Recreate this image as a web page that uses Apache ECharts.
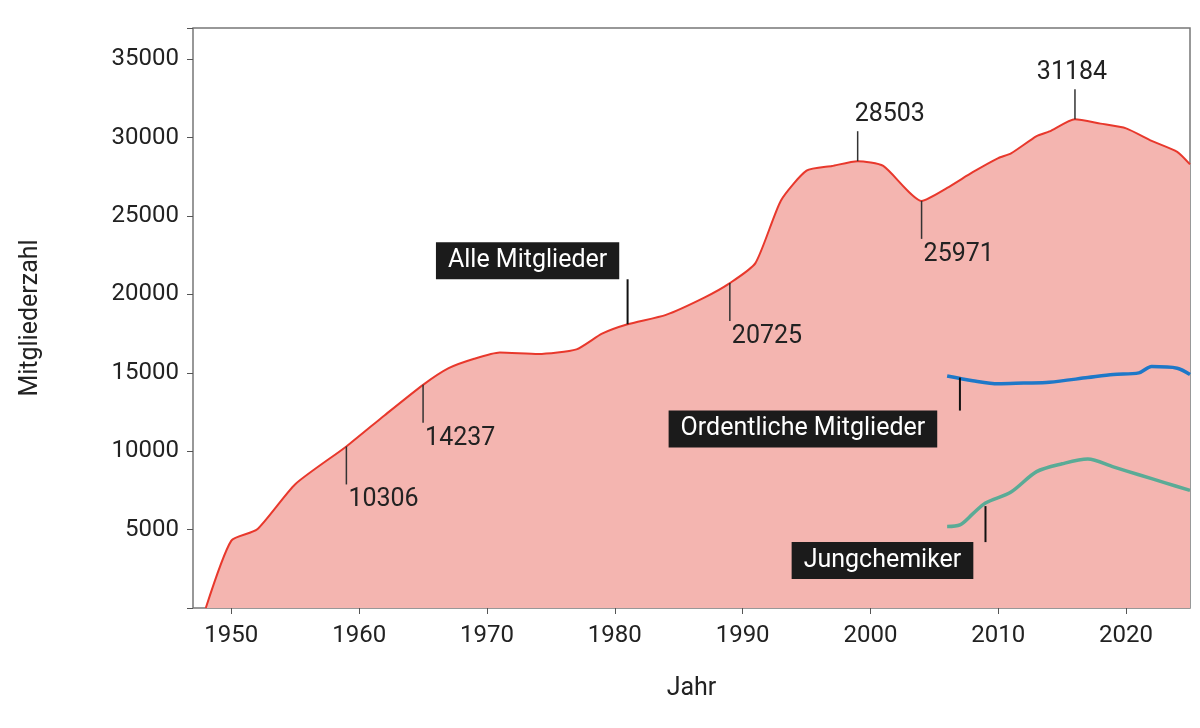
<!DOCTYPE html>
<html>
<head>
<meta charset="utf-8">
<script src="https://cdn.jsdelivr.net/npm/echarts@6/dist/echarts.min.js"></script>
<style>body{margin:0;background:#fff}#c{width:1200px;height:728px}</style>
</head>
<body>
<div id="c"></div>
<script>
var alleJahre = [1948,1950,1952,1955,1959,1962,1965,1967,1969,1971,1974,1977,1979,1981,1984,1987,1989,1991,1993,1995,1997,1999,2001,2004,2006,2008,2010,2011,2013,2014,2016,2018,2020,2022,2024,2025];
var alleWerte = [0,4300,5000,7900,10306,12300,14237,15300,15900,16300,16200,16500,17500,18100,18700,19800,20725,22000,26000,27900,28200,28503,28200,25971,26800,27800,28700,29000,30100,30400,31184,30900,30600,29800,29100,28300];
var ordJahre = [2006,2008,2010,2012,2014,2017,2019,2021,2022,2024,2025];
var ordWerte = [14800,14500,14300,14350,14400,14700,14900,15000,15400,15300,14900];
var jungJahre = [2006,2007,2008,2009,2011,2013,2015,2017,2019,2021,2023,2025];
var jungWerte = [5200,5300,6000,6700,7400,8700,9200,9500,9000,8500,8000,7500];
var xTicks = [1950,1960,1970,1980,1990,2000,2010,2020];
// [Jahr, Wert, Text, Richtung]
var zahlen = [[1959,10306,'10306','d'],[1965,14237,'14237','d'],[1989,20725,'20725','d'],[2004,25971,'25971','d'],[1999,28503,'28503','u'],[2016,31184,'31184','u']];
// [Jahr, Wert, Text, x-Versatz Box, Richtung, Linienlänge]
var boxen = [[1981,18100,'Alle Mitglieder',-100,'u',45],[2007,14700,'Ordentliche Mitglieder',-157,'d',33],[2009,6500,'Jungchemiker',-103,'d',36]];

function zip(a,b){return a.map(function(v,i){return [v,b[i]];});}

var chart = echarts.init(document.getElementById('c'));
chart.setOption({
  animation:false,
  grid:{left:193,right:10,top:28,bottom:120,show:true,borderColor:'#777',borderWidth:1.5,backgroundColor:'transparent'},
  xAxis:{type:'value',min:1947,max:2025,name:'Jahr',nameLocation:'middle',nameGap:68,
    nameTextStyle:{fontSize:25,color:'#222',fontFamily:'Roboto'},
    axisLine:{show:false},splitLine:{show:false},
    axisTick:{show:true,customValues:xTicks,length:6,lineStyle:{color:'#555'}},
    axisLabel:{customValues:xTicks,fontSize:24,color:'#222',fontFamily:'Roboto',margin:16,
      formatter:function(v){return String(v);}}},
  yAxis:{type:'value',min:0,max:37000,interval:5000,name:'Mitgliederzahl',nameLocation:'middle',nameGap:150,
    nameTextStyle:{fontSize:25,color:'#222',fontFamily:'Roboto'},
    axisLine:{show:false},splitLine:{show:false},
    axisTick:{show:true,length:6,lineStyle:{color:'#555'}},
    axisLabel:{fontSize:24,color:'#222',fontFamily:'Roboto',margin:14,
      formatter:function(v){return (v>0&&v%5000===0)?String(v):'';}}},
  series:[
    {type:'line',data:zip(alleJahre,alleWerte),symbol:'none',smooth:0.2,
      lineStyle:{color:'#e8382c',width:2},areaStyle:{color:'#f4b5b0',opacity:1}},
    {type:'line',data:zip(ordJahre,ordWerte),symbol:'none',smooth:0.3,lineStyle:{color:'#1e78c8',width:3.5}},
    {type:'line',data:zip(jungJahre,jungWerte),symbol:'none',smooth:0.3,lineStyle:{color:'#5aab96',width:3.5}},
    {type:'custom',data:zahlen,z:10,renderItem:function(p,api){
      var pt=api.coord([api.value(0),api.value(1)]);var d=zahlen[p.dataIndex][3];
      var y2=d==='d'?pt[1]+38:pt[1]-30;
      return {type:'group',children:[
        {type:'line',shape:{x1:pt[0],y1:pt[1],x2:pt[0],y2:y2},style:{stroke:'#333',lineWidth:1.5}},
        {type:'text',style:{text:zahlen[p.dataIndex][2],x:d==='d'?pt[0]+2:pt[0]-3,y:d==='d'?y2+3:y2-4,
          fontSize:25,fill:'#222',fontFamily:'Roboto',align:d==='d'?'left':(pt[0]>1000?'center':'left'),verticalAlign:d==='d'?'top':'bottom'}}]};
    }},
    {type:'custom',data:boxen,z:12,renderItem:function(p,api){
      var pt=api.coord([api.value(0),api.value(1)]);var b=boxen[p.dataIndex];
      var yb=b[4]==='u'?pt[1]-b[5]:pt[1]+b[5];
      return {type:'group',children:[
        {type:'line',shape:{x1:pt[0],y1:pt[1],x2:pt[0],y2:yb},style:{stroke:'#111',lineWidth:2}},
        {type:'text',style:{text:b[2],x:pt[0]+b[3],y:yb,fontSize:25,fill:'#fff',fontFamily:'Roboto',
          align:'center',verticalAlign:b[4]==='u'?'bottom':'top',backgroundColor:'#1b1b1b',padding:[6,12,6,12]}}]};
    }}
  ]
});
</script>
</body>
</html>
